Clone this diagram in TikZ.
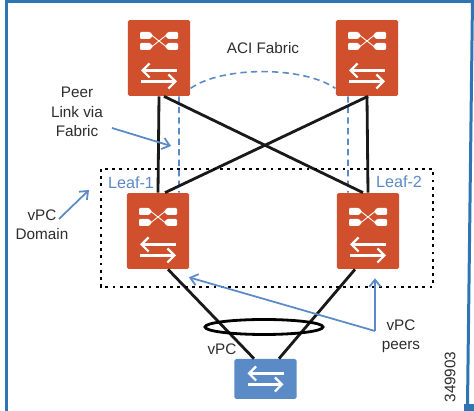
\documentclass[tikz,border=0pt]{standalone}
\usepackage{fontspec}
\setmainfont{Liberation Sans}
\usepackage{tikz}
\usetikzlibrary{arrows.meta,calc,shapes.geometric}
\definecolor{ciscored}{RGB}{208,79,44}
\definecolor{ciscoblue}{RGB}{91,139,199}
\definecolor{framecol}{RGB}{46,117,182}
\definecolor{labelgray}{RGB}{45,45,45}
\tikzset{
  x=0.02cm,y=-0.02cm,
  swbox/.style={rectangle,rounded corners=1pt,fill=ciscored,minimum width=1.25cm,minimum height=1.52cm,inner sep=0pt},
  hostbox/.style={rectangle,rounded corners=1pt,fill=ciscoblue,minimum width=1.25cm,minimum height=0.8cm,inner sep=0pt},
  txt/.style={align=center,text=labelgray,font=\fontsize{8.7}{10}\selectfont,inner sep=0pt},
  leaftxt/.style={txt,text=ciscoblue,font=\fontsize{9.2}{10}\selectfont},
  link/.style={line width=1.6pt,color=black!90},
  peerlink/.style={ciscoblue,line width=0.9pt,dash pattern=on 3.6pt off 2.4pt},
  callout/.style={-{Straight Barb[length=4pt,width=6.5pt]},ciscoblue,line width=1pt},
  dotbox/.style={line width=1.6pt,dash pattern=on 1.6pt off 2.5pt},
  whitearr/.style={-{Straight Barb[length=4pt,width=8pt]},white,line width=1.3pt},
  pics/arrows/.style={code={
    \draw[whitearr] (18,-5.5) -- (-18,-5.5);
    \draw[whitearr] (-18,5.5) -- (18,5.5);
  }},
  pics/xbar/.style={code={
    \foreach \sx in {-1,1}{
      \foreach \sy in {-1,1}{
        \fill[white,rounded corners=0.6pt] (\sx*19,\sy*2) -- (\sx*19,\sy*9) -- (\sx*9,\sy*9) -- (\sx*6,\sy*5.5) -- (\sx*9,\sy*2) -- cycle;
      }
    }
    \draw[white,line width=0.5pt] (-7,-5.5) -- (7,5.5) (-7,5.5) -- (7,-5.5);
  }}
}
\begin{document}
\begin{tikzpicture}
  \useasboundingbox (0,0) rectangle (474,411);
  \fill[white] (0,0) rectangle (474,411);
  \fill[framecol] (5,0) rectangle (474,3);
  \fill[framecol] (5,0) rectangle (7.5,411);
  \fill[framecol] (471,0) -- (474,0) -- (469,405) -- (466,405) -- cycle;
  \fill[framecol] (464,404.5) rectangle (474,411);

  \node[swbox] (spineA) at (159,58) {};
  \node[swbox] (spineB) at (367,58) {};
  \node[swbox] (leafA) at (158,231) {};
  \node[swbox] (leafB) at (368,231) {};
  \node[hostbox] (host) at (265.5,379) {};

  \pic at (159,41) {xbar};
  \pic at (367,41) {xbar};
  \pic at (158,217) {xbar};
  \pic at (368,217) {xbar};
  \pic at (159,76) {arrows};
  \pic at (367,76) {arrows};
  \pic at (158,250) {arrows};
  \pic at (368,250) {arrows};
  \pic at (265.5,379) {arrows};

  % peer link over the fabric
  \draw[peerlink] ([xshift=0.4cm]spineA.south) -- ([xshift=0.42cm]leafA.north);
  \draw[peerlink] ([xshift=-0.38cm]spineB.south) -- ([xshift=-0.4cm]leafB.north);
  \draw[peerlink] ([yshift=0.16cm]spineA.south east) .. controls (222,66) and (303,66) .. ([yshift=0.16cm]spineB.south west);

  \draw[link] (spineA.south) -- (leafA.north);
  \draw[link] (spineB.south) -- (leafB.north);
  \draw[link] ([xshift=0.1cm]spineA.south) -- ([xshift=-0.1cm]leafB.north);
  \draw[link] ([xshift=0.02cm]spineB.south) -- ([xshift=0.14cm]leafA.north);
  \draw[link] ([xshift=0.2cm]leafA.south) -- ([xshift=-0.23cm]host.north);
  \draw[link] ([xshift=-0.26cm]leafB.south) -- ([xshift=0.27cm]host.north);

  \node[draw,ellipse,line width=1.6pt,minimum width=2.36cm,minimum height=0.3cm,inner sep=0pt] (vpcring) at (264,327) {};
  \draw[dotbox] (101,169) rectangle (433,287);

  \node[txt] (fabric) at (263,48) {ACI Fabric};
  \node[txt] (peerlabel) at (77,112) {Peer\\[1pt]Link via\\[1pt]Fabric};
  \node[txt] (domain) at (42,224.5) {vPC\\[1pt]Domain};
  \node[leaftxt] (leafAlabel) at (131,183) {Leaf-1};
  \node[leaftxt] (leafBlabel) at (399,182) {Leaf-2};
  \node[txt] (vpc) at (222,349) {vPC};
  \node[txt] (peers) at (401,336) {vPC\\[1pt]peers};
  \node[txt,rotate=90] (docid) at (450,377) {349903};

  \coordinate (peerstart) at (112,128);
  \coordinate (peerend) at (171,146);
  \coordinate (domainstart) at (59,219);
  \coordinate (domainend) at (89,190);
  \coordinate (peerhub) at (375,331);
  \draw[callout] (peerstart) -- (peerend);
  \draw[callout] (domainstart) -- (domainend);
  \draw[callout] (peerhub) -- ([xshift=0.62cm,yshift=-0.16cm]leafA.south);
  \draw[callout] (peerhub) -- ([xshift=0.14cm,yshift=-0.18cm]leafB.south);
\end{tikzpicture}
\end{document}
